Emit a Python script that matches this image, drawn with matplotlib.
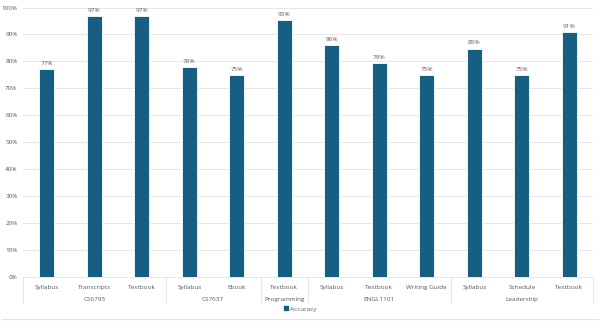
import matplotlib.pyplot as plt
from matplotlib.patches import Rectangle
from matplotlib.lines import Line2D
import matplotlib.transforms as mtransforms

# data
docs = ["Syllabus", "Transcripts", "Textbook", "Syllabus", "Ebook", "Textbook",
        "Syllabus", "Textbook", "Writing Guide", "Syllabus", "Schedule", "Textbook"]
groups = ["CS6795", "CS7637", "Programming", "ENGL1101", "Leadership"]
group_sizes = [3, 2, 1, 3, 3]
accuracy = [0.770, 0.969, 0.967, 0.778, 0.748, 0.952,
            0.860, 0.794, 0.748, 0.847, 0.748, 0.910]

BAR = "#156082"
TXT = "#595959"
GRID = "#e3e3e3"

plt.rcParams['font.family'] = ['Open Sans', 'DejaVu Sans']

fig = plt.figure(figsize=(6, 3.21), dpi=100)
ax = fig.add_axes([23 / 600, 1 - 277 / 321, 570 / 600, 269.5 / 321])

x = list(range(len(docs)))
ax.bar(x, accuracy, width=0.31, color=BAR, edgecolor="white", linewidth=0.6, zorder=3)

for xi, v in zip(x, accuracy):
    ax.text(xi, v + 0.012, f"{round(v * 100):.0f}%", ha="center", va="bottom",
            fontsize=4.6, color=TXT)

ax.set_xlim(-0.5, len(docs) - 0.5)
ax.set_ylim(0, 1.0)
ax.set_yticks([i / 10 for i in range(11)])
ax.set_yticklabels([f"{i * 10}%" for i in range(11)])
ax.yaxis.grid(True, color=GRID, linewidth=0.6, zorder=0)
ax.tick_params(axis="y", length=0, labelsize=4.5, labelcolor=TXT, pad=4)
ax.set_xticks([])
for s in ["top", "right", "left"]:
    ax.spines[s].set_visible(False)
ax.spines["bottom"].set_color(GRID)
ax.spines["bottom"].set_linewidth(0.6)

# multi-level category axis
trans = mtransforms.blended_transform_factory(ax.transData, ax.transAxes)
for xi, name in zip(x, docs):
    ax.text(xi, -0.03, name, transform=trans, ha="center", va="top",
            fontsize=4.6, color=TXT)

start = 0
bounds = [-0.5]
for g, n in zip(groups, group_sizes):
    mid = start + (n - 1) / 2
    ax.text(mid, -0.075, g, transform=trans, ha="center", va="top",
            fontsize=4.6, color=TXT)
    start += n
    bounds.append(start - 0.5)

for b in bounds:
    ax.plot([b, b], [0, -0.095], transform=trans, color=GRID, linewidth=0.6,
            clip_on=False)

# legend
fig.legend(handles=[Rectangle((0, 0), 1, 1, color=BAR)], labels=["Accuracy"],
           loc="center", bbox_to_anchor=(0.5, 1 - 309 / 321), frameon=False,
           fontsize=4.6, handlelength=0.6, handleheight=0.6, handletextpad=0.3,
           labelcolor=TXT)

# faint line along the bottom of the chart
fig.lines.append(Line2D([0.003, 0.997], [1 - 319 / 321] * 2, transform=fig.transFigure,
                        color=GRID, linewidth=0.8))

fig.savefig("out.png", dpi=100)
